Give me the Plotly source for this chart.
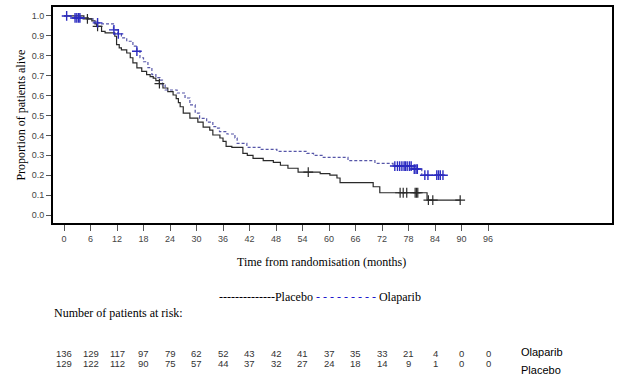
import plotly.graph_objects as go

# ---- data ----
months_ticks = list(range(0, 97, 6))
y_ticks = [0.0, 0.1, 0.2, 0.3, 0.4, 0.5, 0.6, 0.7, 0.8, 0.9, 1.0]

placebo_t = [0, 4.5, 5.5, 6.3, 7.0, 7.4, 8.5, 9.3, 11.5, 11.9, 12.5, 13.0, 14.2, 15.0, 15.6,
             16.5, 17.6, 18.7, 19.5, 20.2, 20.8, 21.6, 22.4, 23.5, 24.7, 25.4, 25.9, 26.3,
             27.0, 28.5, 30.3, 31.5, 33.0, 33.7, 35.3, 36.0, 36.7, 38.0, 40.5, 41.5, 42.8,
             45.1, 47.4, 49.0, 50.7, 53.0, 58.0, 60.2, 61.8, 62.5, 70.0, 71.5, 82.2, 89.7]
placebo_s = [1.0, 0.99, 0.985, 0.975, 0.96, 0.948, 0.923, 0.915, 0.898, 0.856, 0.84, 0.83,
             0.814, 0.79, 0.764, 0.739, 0.722, 0.705, 0.695, 0.688, 0.675, 0.66, 0.638, 0.62,
             0.603, 0.585, 0.565, 0.544, 0.512, 0.487, 0.467, 0.442, 0.427, 0.402, 0.387,
             0.37, 0.345, 0.34, 0.31, 0.30, 0.285, 0.273, 0.265, 0.25, 0.235, 0.216, 0.208,
             0.20, 0.186, 0.163, 0.142, 0.112, 0.075, 0.075]
placebo_cens_t = [5.3, 7.6, 21.6, 55.3, 76.1, 76.8, 77.6, 79.5, 79.8, 80.1, 82.5, 83.5, 89.7]
placebo_cens_s = [0.985, 0.948, 0.66, 0.216, 0.112, 0.112, 0.112, 0.112, 0.112, 0.112,
                  0.075, 0.075, 0.075]

olaparib_t = [0, 3.8, 5.1, 6.6, 7.4, 8.5, 11.2, 12.2, 13.0, 14.2, 15.6, 16.5, 17.2, 18.0,
              19.0, 19.9, 20.8, 21.7, 22.3, 22.9, 25.6, 27.4, 28.5, 29.7, 30.7, 32.3, 33.7,
              34.6, 35.2, 36.9, 38.7, 39.2, 41.4, 44.4, 48.2, 55.0, 56.5, 58.7, 64.3, 70.4,
              74.5, 79.0, 81.0, 85.8]
olaparib_s = [1.0, 0.99, 0.985, 0.973, 0.965, 0.96, 0.93, 0.91, 0.89, 0.873, 0.848, 0.823,
              0.79, 0.77, 0.74, 0.705, 0.69, 0.678, 0.653, 0.628, 0.613, 0.588, 0.553, 0.512,
              0.486, 0.467, 0.444, 0.437, 0.419, 0.407, 0.387, 0.36, 0.34, 0.33, 0.32, 0.31,
              0.30, 0.29, 0.273, 0.26, 0.246, 0.231, 0.20, 0.20]
olaparib_cens_t = [0.6, 2.5, 2.9, 3.3, 3.6, 7.6, 11.3, 12.3, 16.5, 74.9, 75.5, 76.0, 76.5,
                   77.0, 77.3, 77.7, 78.2, 78.6, 79.3, 79.7, 80.0, 81.7, 82.4, 84.4, 84.8,
                   85.2, 85.8]
olaparib_cens_s = [1.0, 0.99, 0.99, 0.99, 0.99, 0.965, 0.93, 0.91, 0.823, 0.246, 0.246,
                   0.246, 0.246, 0.246, 0.246, 0.246, 0.246, 0.246, 0.231, 0.231, 0.231,
                   0.20, 0.20, 0.20, 0.20, 0.20, 0.20]

risk_olaparib = [136, 129, 117, 97, 79, 62, 52, 43, 42, 41, 37, 35, 33, 21, 4, 0, 0]
risk_placebo = [129, 122, 112, 90, 75, 57, 44, 37, 32, 27, 24, 18, 14, 9, 1, 0, 0]

BLACK = "#2a2a2a"
BLUE_LINE = "#5656a8"
BLUE_MARK = "#2b2bc0"
SERIF = "Liberation Serif, Times New Roman, serif"
SANS = "Liberation Sans, Arial, sans-serif"

fig = go.Figure()
fig.add_trace(go.Scatter(x=placebo_t, y=placebo_s, mode="lines", line_shape="hv",
                         line=dict(color=BLACK, width=1.2), showlegend=False))
fig.add_trace(go.Scatter(x=olaparib_t, y=olaparib_s, mode="lines", line_shape="hv",
                         line=dict(color=BLUE_LINE, width=1.2, dash="3px,2px"), showlegend=False))
fig.add_trace(go.Scatter(x=placebo_cens_t, y=placebo_cens_s, mode="markers",
                         marker=dict(symbol="cross-thin-open", size=7, color=BLACK,
                                     line=dict(color=BLACK, width=1.2)), showlegend=False))
fig.add_trace(go.Scatter(x=olaparib_cens_t, y=olaparib_cens_s, mode="markers",
                         marker=dict(symbol="cross-thin-open", size=7, color=BLUE_MARK,
                                     line=dict(color=BLUE_MARK, width=1.4)), showlegend=False))

fig.update_layout(
    width=620, height=376,
    margin=dict(l=52, r=7, t=6, b=152),
    paper_bgcolor="white", plot_bgcolor="white",
    xaxis=dict(range=[-2.72, 124.3], tickvals=months_ticks, ticks="outside", ticklen=6,
               tickcolor="#555", showgrid=False, zeroline=False, showline=False,
               tickfont=dict(family=SANS, size=9, color="#444")),
    yaxis=dict(range=[-0.045, 1.05], tickvals=y_ticks, tickformat=".1f", ticks="outside",
               ticklen=5, tickcolor="#555", showgrid=False, zeroline=False, showline=False,
               tickfont=dict(family=SANS, size=9, color="#444")),
    shapes=[dict(type="rect", xref="paper", yref="paper", x0=0, x1=1, y0=0, y1=1,
                 line=dict(color="black", width=2))],
)

ann = []
ann.append(dict(text="Proportion of patients alive", xref="paper", yref="paper",
                x=-0.072, y=0.5, textangle=-90, showarrow=False,
                font=dict(family=SERIF, size=12, color="black")))
ann.append(dict(text="Time from randomisation (months)", xref="paper", yref="paper",
                x=0.48, y=-0.174, showarrow=False, yanchor="middle",
                font=dict(family=SERIF, size=12, color="black")))
ann.append(dict(text='--------------Placebo <span style="color:#1a1acc">- - - - - - - - -</span> Olaparib',
                xref="paper", yref="paper", x=0.478, y=-0.335, showarrow=False, yanchor="middle",
                font=dict(family=SERIF, size=12, color="black")))
ann.append(dict(text="Number of patients at risk:", xref="paper", yref="paper",
                x=0.0, y=-0.408, showarrow=False, xanchor="left", yanchor="middle",
                font=dict(family=SERIF, size=12, color="black")))
for t, a, b in zip(months_ticks, risk_olaparib, risk_placebo):
    ann.append(dict(text=str(a), xref="x", yref="paper", x=t, y=-0.596, showarrow=False,
                    yanchor="middle", font=dict(family=SANS, size=9.5, color="#333")))
    ann.append(dict(text=str(b), xref="x", yref="paper", x=t, y=-0.638, showarrow=False,
                    yanchor="middle", font=dict(family=SANS, size=9.5, color="#333")))
ann.append(dict(text="Olaparib", xref="paper", yref="paper", x=(519 - 52) / 561, y=-0.587,
                showarrow=False, xanchor="left", yanchor="middle",
                font=dict(family=SANS, size=11, color="black")))
ann.append(dict(text="Placebo", xref="paper", yref="paper", x=(519 - 52) / 561, y=-0.670,
                showarrow=False, xanchor="left", yanchor="middle",
                font=dict(family=SANS, size=11, color="black")))
fig.update_layout(annotations=ann)

fig.write_html("out.html", config={"displayModeBar": False},
               post_script="document.body.style.margin='0px';document.body.style.overflow='hidden';")
